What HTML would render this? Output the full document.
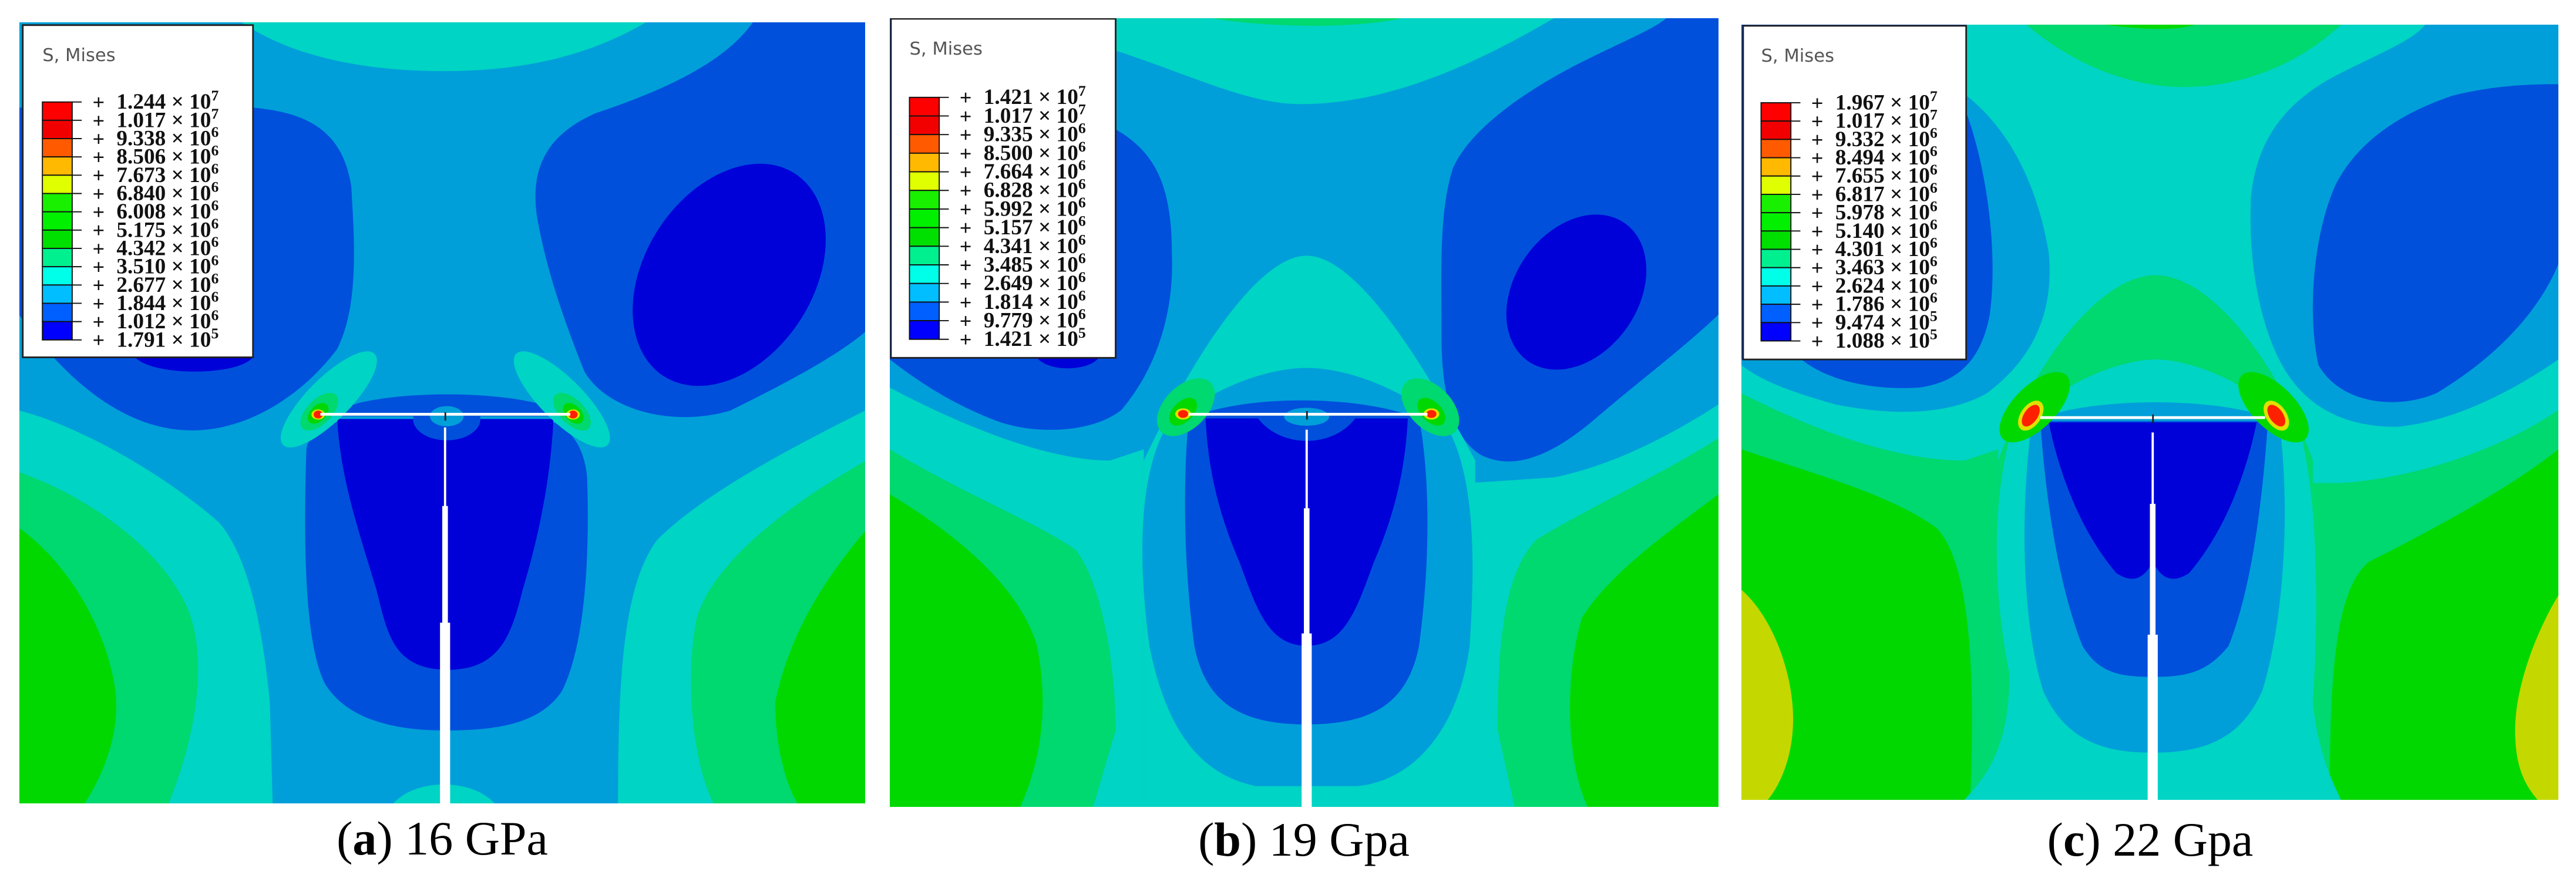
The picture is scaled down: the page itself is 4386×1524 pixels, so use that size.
<!DOCTYPE html>
<html><head><meta charset="utf-8">
<style>
html,body{margin:0;padding:0;background:#fff;}
body{width:4386px;height:1524px;position:relative;overflow:hidden;}
svg.panel{position:absolute;}
</style></head>
<body>
<!-- Panel A -->
<svg class="panel" id="pa" style="left:33px;top:38px;width:1440px;height:1330px" viewBox="34 38 1506 1392" preserveAspectRatio="none">
<rect x="34" y="38" width="1506" height="1392" fill="#009fd9"/>
<path fill="#00d4c4" d="M430,38 C520,100 650,125 790,125 C950,125 1060,90 1150,38 Z"/>
<path fill="#0050dc" d="M1340,38 L1540,38 L1540,590 C1480,640 1380,690 1300,730 C1200,760 1080,730 1040,660 C1000,560 970,470 955,380 C945,300 970,240 1060,200 C1180,160 1290,110 1340,38 Z"/>
<ellipse fill="#0000d8" cx="1298" cy="488" rx="150" ry="215" transform="rotate(33 1298 488)"/>
<path fill="#0050dc" d="M34,190 L34,560 C120,680 220,760 330,765 C440,770 540,700 600,620 C640,540 630,420 625,330 C610,240 560,200 450,190 Z"/>
<path fill="#0000d8" d="M240,635 C270,668 420,670 450,635 Z"/>
<path fill="#00d4c4" d="M34,730 C150,760 300,850 390,930 C450,1000 470,1150 480,1250 L485,1430 L34,1430 Z"/>
<path fill="#00d870" d="M34,840 C150,880 300,980 340,1100 C370,1200 340,1330 300,1430 L34,1430 Z"/>
<path fill="#00d800" d="M34,940 C120,1000 190,1120 205,1230 C215,1320 170,1400 150,1430 L34,1430 Z"/>
<path fill="#00d4c4" d="M1540,730 C1400,800 1250,880 1170,960 C1110,1040 1100,1200 1100,1430 L1540,1430 Z"/>
<path fill="#00d870" d="M1540,820 C1400,900 1270,1000 1240,1100 C1220,1200 1230,1350 1270,1430 L1540,1430 Z"/>
<path fill="#00d800" d="M1540,945 C1450,1050 1400,1150 1380,1250 C1380,1330 1400,1400 1420,1430 L1540,1430 Z"/>
<path fill="#00d4c4" d="M700,1430 C740,1385 840,1385 880,1430 Z"/>
<path fill="#0050dc" d="M585,740 C640,688 950,688 1010,740 Z"/>
<path fill="#0050dc" d="M545,800 C550,760 600,745 640,745 L960,745 C1010,750 1040,790 1045,850 C1050,1000 1040,1150 1000,1230 C960,1290 880,1300 790,1300 C700,1300 620,1280 580,1220 C540,1150 540,950 545,800 Z"/>
<path fill="#0000d8" d="M600,745 L985,745 C980,850 960,950 930,1050 C910,1130 890,1190 800,1192 C700,1192 690,1130 670,1050 C640,950 605,850 600,745 Z"/>
<ellipse fill="#0050dc" cx="795" cy="745" rx="60" ry="38"/>
<ellipse fill="#009fd9" cx="795" cy="740" rx="30" ry="18"/>
<g>
<ellipse fill="#00d4c4" cx="585" cy="710" rx="115" ry="38" transform="rotate(-45 585 710)"/>
<ellipse fill="#00d870" cx="568" cy="732" rx="42" ry="22" transform="rotate(-45 568 732)"/>
<ellipse fill="#00d800" cx="566" cy="735" rx="22" ry="14" transform="rotate(-45 566 735)"/>
<ellipse fill="#e0e000" cx="566" cy="737" rx="12" ry="9"/>
<ellipse fill="#ff2000" cx="566" cy="737" rx="8" ry="7"/>
</g>
<g>
<ellipse fill="#00d4c4" cx="1000" cy="710" rx="115" ry="38" transform="rotate(45 1000 710)"/>
<ellipse fill="#00d870" cx="1018" cy="732" rx="42" ry="22" transform="rotate(45 1018 732)"/>
<ellipse fill="#00d800" cx="1020" cy="735" rx="22" ry="14" transform="rotate(45 1020 735)"/>
<ellipse fill="#e0e000" cx="1020" cy="737" rx="12" ry="9"/>
<ellipse fill="#ff2000" cx="1020" cy="737" rx="8" ry="7"/>
</g>
<g fill="#fff">
<rect x="570" y="734" width="445" height="5"/>
<rect x="790" y="760" width="4" height="145"/>
<rect x="787" y="900" width="10" height="210"/>
<rect x="783" y="1108" width="18" height="322"/>
<rect x="791" y="733" width="3" height="15" fill="#222"/>
</g>
<g id="lega"></g>
</svg>

<!-- Panel B -->
<svg class="panel" id="pb" style="left:1515px;top:31px;width:1411px;height:1343px" viewBox="68 32 1475 1405" preserveAspectRatio="none">
<rect x="68" y="32" width="1475" height="1405" fill="#009fd9"/>
<path fill="#00d4c4" d="M440,32 L440,80 C600,130 700,185 800,185 C950,185 1100,120 1250,32 Z"/>
<path fill="#00d870" d="M640,32 C750,50 900,50 980,32 Z"/>
<path fill="#0050dc" d="M1450,32 L1543,32 L1543,560 C1480,620 1400,680 1330,740 C1250,810 1180,840 1120,810 C1070,780 1050,700 1050,600 C1050,480 1045,380 1070,300 C1100,230 1200,160 1300,110 C1380,70 1430,50 1450,32 Z"/>
<ellipse fill="#0000d8" cx="1290" cy="520" rx="110" ry="150" transform="rotate(35 1290 520)"/>
<path fill="#0050dc" d="M470,230 C540,270 570,330 570,450 C575,560 540,660 480,730 C430,770 330,775 260,750 C180,720 120,680 68,640 L68,32 L470,32 Z"/>
<path fill="#0000d8" d="M330,637 C350,662 420,662 440,637 Z"/>
<path fill="#00d4c4" d="M68,690 C200,760 350,820 460,820 L520,800 L520,1437 L68,1437 Z"/>
<path fill="#00d870" d="M68,800 C200,880 330,930 400,980 C450,1050 470,1200 470,1300 L430,1437 L68,1437 Z"/>
<path fill="#00d800" d="M68,880 C200,960 300,1050 330,1150 C350,1250 340,1350 300,1437 L68,1437 Z"/>
<path fill="#00d4c4" d="M1543,720 C1450,780 1350,830 1250,850 L1100,860 L1100,1437 L1543,1437 Z"/>
<path fill="#00d870" d="M1543,780 C1450,840 1320,900 1220,960 C1160,1020 1150,1150 1150,1300 L1180,1437 L1543,1437 Z"/>
<path fill="#00d800" d="M1543,880 C1450,950 1350,1020 1300,1100 C1270,1200 1270,1350 1310,1437 L1543,1437 Z"/>
<path fill="#00d4c4" d="M520,820 C600,650 720,455 810,455 C900,455 1020,650 1110,820 L1110,1437 L520,1437 Z"/>
<path fill="#009fd9" d="M560,760 C640,690 740,655 810,655 C880,655 980,690 1060,760 C1110,850 1110,1000 1100,1150 C1080,1300 1000,1390 900,1400 L720,1400 C620,1380 560,1300 530,1150 C510,1000 510,850 560,760 Z"/>
<path fill="#0050dc" d="M600,745 C700,702 900,702 1010,745 C1030,850 1030,1000 1010,1150 C990,1250 930,1290 810,1290 C690,1290 630,1250 610,1150 C590,1000 590,850 600,745 Z"/>
<path fill="#0000d8" d="M630,745 L990,745 C985,850 960,930 930,1000 C900,1080 880,1150 810,1150 C740,1150 720,1080 690,1000 C660,930 635,850 630,745 Z"/>
<path fill="#0050dc" d="M720,740 C760,800 860,800 900,740 Z"/>
<ellipse fill="#009fd9" cx="810" cy="742" rx="40" ry="16"/>
<g>
<ellipse fill="#00d870" cx="595" cy="725" rx="62" ry="38" transform="rotate(-45 595 725)"/>
<ellipse fill="#00d800" cx="590" cy="733" rx="30" ry="18" transform="rotate(-45 590 733)"/>
<ellipse fill="#e0e000" cx="590" cy="737" rx="14" ry="10"/>
<ellipse fill="#ff2000" cx="590" cy="737" rx="9" ry="7"/>
</g>
<g>
<ellipse fill="#00d870" cx="1030" cy="725" rx="62" ry="38" transform="rotate(45 1030 725)"/>
<ellipse fill="#00d800" cx="1032" cy="733" rx="30" ry="18" transform="rotate(45 1032 733)"/>
<ellipse fill="#e0e000" cx="1032" cy="737" rx="14" ry="10"/>
<ellipse fill="#ff2000" cx="1032" cy="737" rx="9" ry="7"/>
</g>
<g fill="#fff">
<rect x="600" y="735" width="425" height="5"/>
<rect x="808" y="765" width="4" height="145"/>
<rect x="805" y="905" width="10" height="225"/>
<rect x="801" y="1128" width="18" height="309"/>
<rect x="809" y="732" width="3" height="15" fill="#222"/>
</g>
<g id="legb"></g>
</svg>

<!-- Panel C -->
<svg class="panel" id="pc" style="left:2965px;top:42px;width:1391px;height:1320px" viewBox="83 44 1454 1380" preserveAspectRatio="none">
<rect x="83" y="44" width="1454" height="1380" fill="#00d4c4"/>
<path fill="#00d870" d="M590,44 C680,120 780,155 870,155 C980,155 1080,110 1150,44 Z"/>
<path fill="#00d800" d="M730,44 C800,54 860,54 890,44 Z"/>
<path fill="#009fd9" d="M1300,44 L1537,44 L1537,640 C1450,700 1350,750 1250,760 C1150,760 1080,720 1040,640 C1000,560 985,450 990,350 C1000,250 1050,180 1150,130 C1230,90 1280,70 1300,44 Z"/>
<path fill="#0050dc" d="M1537,150 L1537,470 C1500,560 1420,640 1320,700 C1250,730 1150,720 1110,650 C1090,560 1100,420 1140,330 C1180,250 1260,200 1350,170 C1430,150 1500,150 1537,150 Z"/>
<path fill="#009fd9" d="M483,170 C560,230 610,330 630,450 C640,560 600,640 520,700 C450,740 350,740 250,720 C180,700 120,680 83,650 L83,44 L483,44 Z"/>
<path fill="#0050dc" d="M483,200 C520,300 540,450 525,560 C510,640 470,680 400,690 C320,695 240,680 190,640 L83,640 L83,44 L483,44 Z"/>
<path fill="#00d870" d="M83,700 C200,760 350,820 480,820 L540,800 L540,1424 L83,1424 Z"/>
<path fill="#00d800" d="M83,800 C200,840 350,880 430,940 C490,1000 500,1200 490,1424 L83,1424 Z"/>
<path fill="#c4d800" d="M83,1050 C140,1100 175,1200 175,1280 C175,1350 150,1400 130,1424 L83,1424 Z"/>
<path fill="#00d870" d="M1537,730 C1450,790 1300,850 1150,860 L1100,860 L1100,1424 L1537,1424 Z"/>
<path fill="#00d800" d="M1537,800 C1450,870 1300,950 1200,1000 C1140,1050 1130,1200 1130,1424 L1537,1424 Z"/>
<path fill="#c4d800" d="M1537,1060 C1500,1120 1460,1220 1460,1300 C1460,1370 1480,1400 1500,1424 L1537,1424 Z"/>
<path fill="#00d870" d="M540,820 C600,650 720,490 820,490 C920,490 1040,650 1100,820 L1100,1424 L540,1424 Z"/>
<path fill="#00d4c4" d="M560,780 C640,680 760,640 820,640 C880,640 1000,680 1080,780 C1110,900 1110,1100 1100,1250 C1110,1350 1140,1400 1150,1424 L480,1424 C520,1380 560,1330 560,1200 C530,1050 530,900 560,780 Z"/>
<path fill="#009fd9" d="M600,750 C700,705 940,705 1040,750 C1060,900 1050,1100 1010,1230 C970,1320 900,1340 815,1340 C730,1340 660,1320 620,1230 C580,1100 580,900 600,750 Z"/>
<path fill="#0050dc" d="M615,750 L1020,750 C1010,900 990,1050 950,1150 C910,1200 870,1205 815,1205 C760,1205 720,1200 690,1150 C650,1050 625,900 615,750 Z"/>
<path fill="#0000d8" d="M630,752 L1000,752 C980,850 940,950 880,1020 C850,1040 830,1030 815,1000 C800,1030 780,1040 750,1020 C690,950 650,850 630,752 Z"/>
<g>
<ellipse fill="#00d800" cx="605" cy="725" rx="80" ry="38" transform="rotate(-45 605 725)"/>
<ellipse fill="#e0e000" cx="598" cy="740" rx="30" ry="18" transform="rotate(-55 598 740)"/>
<ellipse fill="#ff2000" cx="598" cy="740" rx="22" ry="12" transform="rotate(-55 598 740)"/>
</g>
<g>
<ellipse fill="#00d800" cx="1030" cy="725" rx="80" ry="38" transform="rotate(45 1030 725)"/>
<ellipse fill="#e0e000" cx="1035" cy="740" rx="30" ry="18" transform="rotate(55 1035 740)"/>
<ellipse fill="#ff2000" cx="1035" cy="740" rx="22" ry="12" transform="rotate(55 1035 740)"/>
</g>
<g fill="#fff">
<rect x="615" y="741" width="400" height="5"/>
<rect x="813" y="770" width="4" height="130"/>
<rect x="810" y="897" width="10" height="235"/>
<rect x="806" y="1130" width="18" height="294"/>
<rect x="814" y="738" width="3" height="15" fill="#222"/>
</g>
<g id="legc"></g>
</svg>

<svg style="position:absolute;left:0;top:0" width="4386" height="1524">
<text x="753" y="1455" text-anchor="middle" font-family="Liberation Serif, serif" font-size="82">(<tspan font-weight="bold">a</tspan>) 16 GPa</text>
<text x="2220" y="1457" text-anchor="middle" font-family="Liberation Serif, serif" font-size="82">(<tspan font-weight="bold">b</tspan>) 19 Gpa</text>
<text x="3661" y="1457" text-anchor="middle" font-family="Liberation Serif, serif" font-size="82">(<tspan font-weight="bold">c</tspan>) 22 Gpa</text>
</svg>

<script>
const binColors = ["#ff0000","#f20000","#ff5a00","#ffb900","#e0ff00","#18f000","#00f000","#00e000","#00f090","#00ffe8","#00beff","#0060ff","#0000ff"];
const mantA = ["1.244","1.017","9.338","8.506","7.673","6.840","6.008","5.175","4.342","3.510","2.677","1.844","1.012","1.791"];
const expA  = [7,7,6,6,6,6,6,6,6,6,6,6,6,5];
const mantB = ["1.421","1.017","9.335","8.500","7.664","6.828","5.992","5.157","4.341","3.485","2.649","1.814","9.779","1.421"];
const expB  = [7,7,6,6,6,6,6,6,6,6,6,6,6,5];
const mantC = ["1.967","1.017","9.332","8.494","7.655","6.817","5.978","5.140","4.301","3.463","2.624","1.786","9.474","1.088"];
const expC  = [7,7,6,6,6,6,6,6,6,6,6,6,5,5];

const NS = "http://www.w3.org/2000/svg";
function mk(tag, attrs, parent){
  const e = document.createElementNS(NS, tag);
  for (const k in attrs) e.setAttribute(k, attrs[k]);
  parent.appendChild(e);
  return e;
}
function buildLegend(gid, box, barX, barY, barH, mant, exps){
  const g = document.getElementById(gid);
  
  
  const r = mk('rect', {x:box[0], y:box[1], width:box[2], height:box[3], fill:'#fff', stroke:'#222', 'stroke-width':3}, g);
  
  
  const t = mk('text', {x:barX, y:box[1]+64, 'font-family':'DejaVu Sans, sans-serif', 'font-size':32, fill:'#555'}, g);
  t.textContent = 'S, Mises';
  
  
  const n = binColors.length;
  const h = barH / n;
  for (let i = 0; i < n; i++){
    const b = mk('rect', {x:barX, y:barY + i*h, width:53, height:h, fill:binColors[i], stroke:'#111', 'stroke-width':2}, g);
    
    
  }
  for (let i = 0; i < mant.length; i++){
    const y = barY + i*h;
    mk('line', {x1:barX+53, x2:barX+70, y1:y, y2:y, stroke:'#111', 'stroke-width':2}, g);
    const p = mk('text', {x:barX+100, y:y+13, 'font-family':'Liberation Serif, serif', 'font-size':38, 'font-weight':'bold', 'text-anchor':'middle', fill:'#111'}, g);
    p.textContent = '+';
    const lab = mk('text', {x:barX+132, y:y+12, 'font-family':'Liberation Serif, serif', 'font-size':39, 'font-weight':'bold', fill:'#111'}, g);
    
    
    const s1 = mk('tspan', {}, lab); s1.textContent = mant[i] + ' \u00d7 10';
    const s2 = mk('tspan', {dy:-15, 'font-size':27}, lab); s2.textContent = exps[i];
  }
}
buildLegend('lega', [40,43,410,592], 75, 180, 424, mantA, expA);
buildLegend('legb', [70,33,400,604], 103, 173, 431, mantB, expB);
buildLegend('legc', [86,46,397,594], 118, 183, 424, mantC, expC);
</script>
</body></html>
